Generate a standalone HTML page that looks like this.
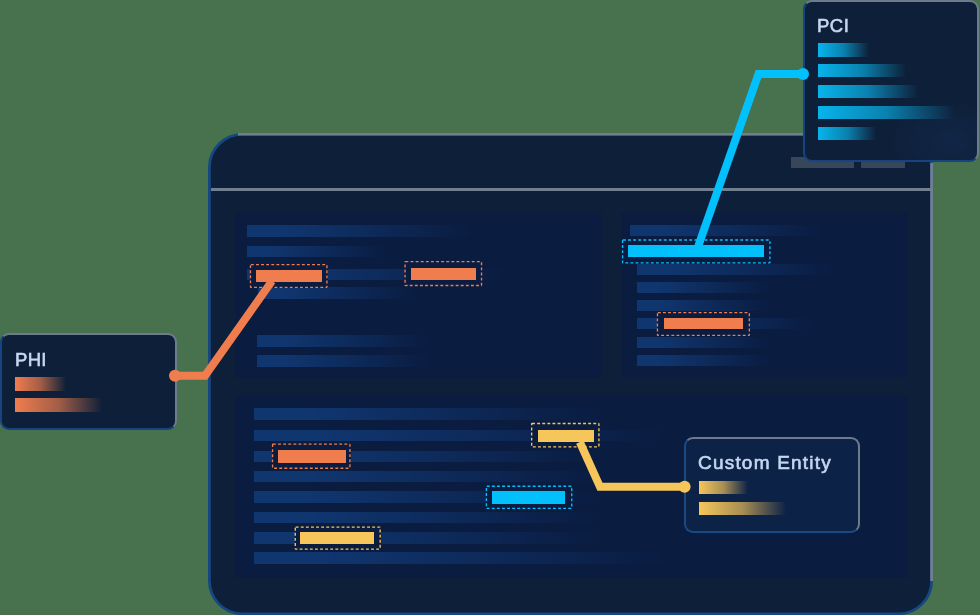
<!DOCTYPE html>
<html><head><meta charset="utf-8"><style>
html,body{margin:0;padding:0;}
body{width:980px;height:615px;overflow:hidden;background:#48724e;position:relative;font-family:"Liberation Sans",sans-serif;}
.b{position:absolute;}
#win{position:absolute;left:208px;top:133px;width:725px;height:482px;border-radius:34px;background:#0e2039;box-sizing:border-box;
 border-style:solid;border-width:2.5px;border-color:#6f7e92 #6f7e92 #174781 #174781;}
svg{position:absolute;left:0;top:0;}
.card{position:absolute;border-radius:9px;border:2.5px solid;border-color:#6e7b8f #6e7b8f #174480 #174480;background:#0e2039;box-sizing:border-box;}
.t{position:absolute;color:#c6d8f1;font-weight:normal;-webkit-text-stroke:0.6px #c6d8f1;font-size:18px;line-height:1;white-space:nowrap;will-change:transform;}
</style></head><body>
<svg class="b" style="left:0;top:0" width="980" height="615"><rect x="209.4" y="134.4" width="722.2" height="479.4" rx="33" fill="#0e2039" stroke="#174781" stroke-width="2.8"/><line x1="238" y1="134.3" x2="903" y2="134.3" stroke="#6f7e92" stroke-width="2.6"/><line x1="931.6" y1="163" x2="931.6" y2="581" stroke="#6f7e92" stroke-width="2.8"/></svg>
<div class="b" style="left:211px;top:188px;width:720px;height:3px;background:#717f91;"></div>
<div class="b" style="left:791px;top:156.5px;width:63px;height:11.5px;background:#37465b;"></div>
<div class="b" style="left:861px;top:156.5px;width:44px;height:11.5px;background:#37465b;"></div>
<div class="b" style="left:234.5px;top:213px;width:367.5px;height:165px;background:#0a1c40;"></div>
<div class="b" style="left:621px;top:212.5px;width:287px;height:164.5px;background:#0a1c40;"></div>
<div class="b" style="left:234.5px;top:395px;width:673.5px;height:182.7px;background:#0a1c40;"></div>
<div class="b" style="left:247px;top:225.3px;width:228px;height:11.5px;background:linear-gradient(90deg,rgba(16,54,112,1.0) 0%,rgba(16,54,112,1.0) 15%,rgba(16,54,112,0) 100%)"></div>
<div class="b" style="left:247px;top:245.6px;width:142px;height:11.5px;background:linear-gradient(90deg,rgba(16,54,112,1.0) 0%,rgba(16,54,112,1.0) 15%,rgba(16,54,112,0) 100%)"></div>
<div class="b" style="left:247px;top:268.7px;width:262px;height:11.5px;background:linear-gradient(90deg,rgba(16,54,112,1.0) 0%,rgba(16,54,112,1.0) 15%,rgba(16,54,112,0) 100%)"></div>
<div class="b" style="left:258px;top:287px;width:160px;height:11.5px;background:linear-gradient(90deg,rgba(16,54,112,1.0) 0%,rgba(16,54,112,1.0) 15%,rgba(16,54,112,0) 100%)"></div>
<div class="b" style="left:257px;top:335.3px;width:175px;height:11.5px;background:linear-gradient(90deg,rgba(16,54,112,1.0) 0%,rgba(16,54,112,1.0) 15%,rgba(16,54,112,0) 100%)"></div>
<div class="b" style="left:257px;top:355px;width:175px;height:11.5px;background:linear-gradient(90deg,rgba(16,54,112,1.0) 0%,rgba(16,54,112,1.0) 15%,rgba(16,54,112,0) 100%)"></div>
<div class="b" style="left:629.5px;top:225.4px;width:195px;height:11px;background:linear-gradient(90deg,rgba(16,54,112,1.0) 0%,rgba(16,54,112,1.0) 15%,rgba(16,54,112,0) 100%)"></div>
<div class="b" style="left:637px;top:264.4px;width:200px;height:11px;background:linear-gradient(90deg,rgba(16,54,112,1.0) 0%,rgba(16,54,112,1.0) 15%,rgba(16,54,112,0) 100%)"></div>
<div class="b" style="left:637px;top:282px;width:135px;height:11px;background:linear-gradient(90deg,rgba(16,54,112,1.0) 0%,rgba(16,54,112,1.0) 15%,rgba(16,54,112,0) 100%)"></div>
<div class="b" style="left:637px;top:300px;width:135px;height:11px;background:linear-gradient(90deg,rgba(16,54,112,1.0) 0%,rgba(16,54,112,1.0) 15%,rgba(16,54,112,0) 100%)"></div>
<div class="b" style="left:637px;top:318px;width:178px;height:11px;background:linear-gradient(90deg,rgba(16,54,112,1.0) 0%,rgba(16,54,112,1.0) 15%,rgba(16,54,112,0) 100%)"></div>
<div class="b" style="left:637px;top:337px;width:135px;height:11px;background:linear-gradient(90deg,rgba(16,54,112,1.0) 0%,rgba(16,54,112,1.0) 15%,rgba(16,54,112,0) 100%)"></div>
<div class="b" style="left:637px;top:355px;width:135px;height:11px;background:linear-gradient(90deg,rgba(16,54,112,1.0) 0%,rgba(16,54,112,1.0) 15%,rgba(16,54,112,0) 100%)"></div>
<div class="b" style="left:254px;top:408.4px;width:350px;height:11.4px;background:linear-gradient(90deg,rgba(16,54,112,1.0) 0%,rgba(16,54,112,1.0) 15%,rgba(16,54,112,0) 100%)"></div>
<div class="b" style="left:254px;top:429.5px;width:420px;height:11.4px;background:linear-gradient(90deg,rgba(16,54,112,1.0) 0%,rgba(16,54,112,1.0) 15%,rgba(16,54,112,0) 100%)"></div>
<div class="b" style="left:254px;top:450.5px;width:350px;height:11.4px;background:linear-gradient(90deg,rgba(16,54,112,1.0) 0%,rgba(16,54,112,1.0) 15%,rgba(16,54,112,0) 100%)"></div>
<div class="b" style="left:254px;top:471px;width:350px;height:11.4px;background:linear-gradient(90deg,rgba(16,54,112,1.0) 0%,rgba(16,54,112,1.0) 15%,rgba(16,54,112,0) 100%)"></div>
<div class="b" style="left:254px;top:491.3px;width:350px;height:11.4px;background:linear-gradient(90deg,rgba(16,54,112,1.0) 0%,rgba(16,54,112,1.0) 15%,rgba(16,54,112,0) 100%)"></div>
<div class="b" style="left:254px;top:511.8px;width:350px;height:11.4px;background:linear-gradient(90deg,rgba(16,54,112,1.0) 0%,rgba(16,54,112,1.0) 15%,rgba(16,54,112,0) 100%)"></div>
<div class="b" style="left:254px;top:532.3px;width:350px;height:11.4px;background:linear-gradient(90deg,rgba(16,54,112,1.0) 0%,rgba(16,54,112,1.0) 15%,rgba(16,54,112,0) 100%)"></div>
<div class="b" style="left:254px;top:552.4px;width:420px;height:11.4px;background:linear-gradient(90deg,rgba(16,54,112,1.0) 0%,rgba(16,54,112,1.0) 15%,rgba(16,54,112,0) 100%)"></div>
<div class="b" style="left:249.8px;top:263.9px;width:77.80000000000001px;height:24.100000000000023px;background:#0a1c40;"></div>
<svg class="b" style="left:0;top:0" width="980" height="615"><rect x="250.48" y="264.57" width="76.45" height="22.75" rx="0.4" fill="none" stroke="#f07d4e" stroke-width="1.35" stroke-dasharray="2.9 2.2"/></svg>
<div class="b" style="left:256px;top:269.5px;width:65.5px;height:12px;background:#f07d4e;"></div>
<div class="b" style="left:404.4px;top:261px;width:77.80000000000001px;height:25.19999999999999px;background:#0a1c40;"></div>
<svg class="b" style="left:0;top:0" width="980" height="615"><rect x="405.07" y="261.68" width="76.45" height="23.85" rx="0.4" fill="none" stroke="#f07d4e" stroke-width="1.35" stroke-dasharray="2.9 2.2"/></svg>
<div class="b" style="left:411px;top:267.7px;width:65.2px;height:12.3px;background:#f07d4e;"></div>
<div class="b" style="left:621.9px;top:239.3px;width:148.70000000000005px;height:24.30000000000001px;background:#0a1c40;"></div>
<svg class="b" style="left:0;top:0" width="980" height="615"><rect x="622.57" y="239.98" width="147.35" height="22.95" rx="0.4" fill="none" stroke="#02c0fc" stroke-width="1.35" stroke-dasharray="2.9 2.2"/></svg>
<div class="b" style="left:628.4px;top:245.4px;width:135.8px;height:11.8px;background:#02c0fc;"></div>
<div class="b" style="left:656.8px;top:312px;width:93.20000000000005px;height:24px;background:#0a1c40;"></div>
<svg class="b" style="left:0;top:0" width="980" height="615"><rect x="657.47" y="312.68" width="91.85" height="22.65" rx="0.4" fill="none" stroke="#f07d4e" stroke-width="1.35" stroke-dasharray="2.9 2.2"/></svg>
<div class="b" style="left:663.9px;top:318.1px;width:79.1px;height:11.4px;background:#f07d4e;"></div>
<div class="b" style="left:271.9px;top:443.5px;width:78.70000000000005px;height:25.399999999999977px;background:#0a1c40;"></div>
<svg class="b" style="left:0;top:0" width="980" height="615"><rect x="272.57" y="444.18" width="77.35" height="24.05" rx="0.4" fill="none" stroke="#f07d4e" stroke-width="1.35" stroke-dasharray="2.9 2.2"/></svg>
<div class="b" style="left:278.4px;top:449.6px;width:67.3px;height:13px;background:#f07d4e;"></div>
<div class="b" style="left:531px;top:422.8px;width:68.60000000000002px;height:24.80000000000001px;background:#0a1c40;"></div>
<svg class="b" style="left:0;top:0" width="980" height="615"><rect x="531.67" y="423.48" width="67.25" height="23.45" rx="0.4" fill="none" stroke="#f7c65a" stroke-width="1.35" stroke-dasharray="2.9 2.2"/></svg>
<div class="b" style="left:537.5px;top:430.3px;width:56.5px;height:11.6px;background:#f7c65a;"></div>
<div class="b" style="left:485.7px;top:485.6px;width:86.69999999999999px;height:23.399999999999977px;background:#0a1c40;"></div>
<svg class="b" style="left:0;top:0" width="980" height="615"><rect x="486.38" y="486.28" width="85.35" height="22.05" rx="0.4" fill="none" stroke="#02c0fc" stroke-width="1.35" stroke-dasharray="2.9 2.2"/></svg>
<div class="b" style="left:491.8px;top:490.7px;width:73.5px;height:13.3px;background:#02c0fc;"></div>
<div class="b" style="left:294.6px;top:526.4px;width:86.19999999999999px;height:23.399999999999977px;background:#0a1c40;"></div>
<svg class="b" style="left:0;top:0" width="980" height="615"><rect x="295.28" y="527.07" width="84.85" height="22.05" rx="0.4" fill="none" stroke="#f7c65a" stroke-width="1.35" stroke-dasharray="2.9 2.2"/></svg>
<div class="b" style="left:300.2px;top:532px;width:74.1px;height:12.3px;background:#f7c65a;"></div>
<svg width="980" height="615" viewBox="0 0 980 615"></svg>
<div class="card" style="left:-0.3px;top:333.3px;width:176.9px;height:96.30000000000001px;"></div>
<div class="card" style="left:803.2px;top:-0.3px;width:175.79999999999995px;height:162.3px;background:radial-gradient(ellipse 60px 40px at 85% 88%,#112647 0%,#0e2039 100%);"></div>
<div class="card" style="left:684px;top:437.3px;width:176px;height:95.69999999999999px;background:#0c2247;border-width:2px;border-color:#6e7b8f #6e7b8f #1a4a84 #1a4a84;"></div>
<div class="b" style="left:15px;top:377px;width:51px;height:13.8px;background:linear-gradient(90deg,rgb(240,125,78) 0%,rgba(240,125,78,0.66) 50%,rgba(240,125,78,0) 100%)"></div>
<div class="b" style="left:15px;top:398px;width:87px;height:13.6px;background:linear-gradient(90deg,rgb(240,125,78) 0%,rgba(240,125,78,0.66) 50%,rgba(240,125,78,0) 100%)"></div>
<div class="b" style="left:818px;top:43.4px;width:51px;height:13.3px;background:linear-gradient(90deg,rgb(8,180,236) 0%,rgba(8,180,236,0.66) 50%,rgba(8,180,236,0) 100%)"></div>
<div class="b" style="left:818px;top:64px;width:88px;height:13.3px;background:linear-gradient(90deg,rgb(8,180,236) 0%,rgba(8,180,236,0.66) 50%,rgba(8,180,236,0) 100%)"></div>
<div class="b" style="left:818px;top:85px;width:100px;height:13.3px;background:linear-gradient(90deg,rgb(8,180,236) 0%,rgba(8,180,236,0.66) 50%,rgba(8,180,236,0) 100%)"></div>
<div class="b" style="left:818px;top:105.6px;width:136px;height:13.3px;background:linear-gradient(90deg,rgb(8,180,236) 0%,rgba(8,180,236,0.66) 50%,rgba(8,180,236,0) 100%)"></div>
<div class="b" style="left:818px;top:127px;width:58px;height:13.3px;background:linear-gradient(90deg,rgb(8,180,236) 0%,rgba(8,180,236,0.66) 50%,rgba(8,180,236,0) 100%)"></div>
<div class="b" style="left:699px;top:481px;width:49px;height:13px;background:linear-gradient(90deg,rgb(247,198,90) 0%,rgba(247,198,90,0.66) 50%,rgba(247,198,90,0) 100%)"></div>
<div class="b" style="left:699px;top:502px;width:87px;height:12.8px;background:linear-gradient(90deg,rgb(247,198,90) 0%,rgba(247,198,90,0.66) 50%,rgba(247,198,90,0) 100%)"></div>
<div class="t" style="left:14.5px;top:350.5px;font-size:18.5px;letter-spacing:0.3px">PHI</div>
<div class="t" style="left:817px;top:16.5px;font-size:18.5px;letter-spacing:0.5px">PCI</div>
<div class="t" style="left:698px;top:453px;font-size:19px;letter-spacing:1.2px">Custom Entity</div>
<svg width="980" height="615" viewBox="0 0 980 615"><path d="M272 281 L205 375.7 L176 375.7" fill="none" stroke="#f07d4e" stroke-width="8" stroke-linejoin="miter"/><circle cx="175" cy="375.7" r="6" fill="#f07d4e"/><path d="M698.3 246 L758.5 74 L803 74" fill="none" stroke="#02c0fc" stroke-width="8"/><circle cx="803" cy="74" r="6" fill="#02c0fc"/><path d="M579.8 442 L600 486.8 L684.6 486.8" fill="none" stroke="#f7c65a" stroke-width="8"/><circle cx="684.6" cy="486.8" r="6" fill="#f7c65a"/></svg>
</body></html>
